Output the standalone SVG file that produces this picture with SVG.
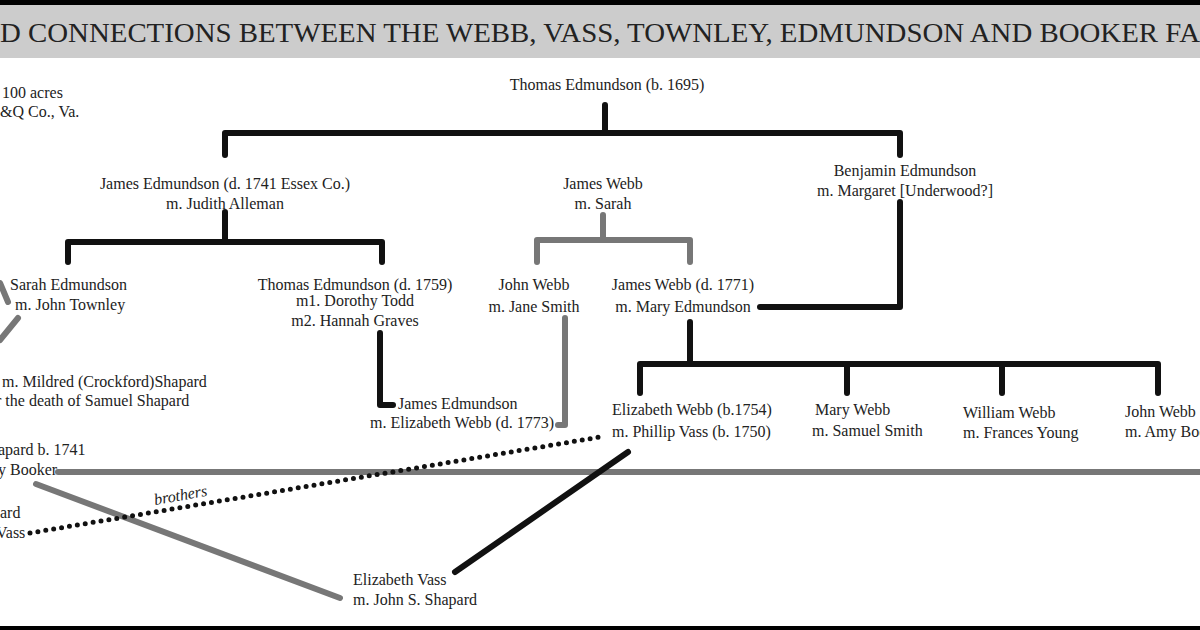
<svg xmlns="http://www.w3.org/2000/svg" width="1200" height="630" viewBox="0 0 1200 630">
<style>
text{font-family:"Liberation Serif","DejaVu Serif",serif;font-size:16px;fill:#222}
.c{text-anchor:middle}
.k{stroke:#111;stroke-width:6;fill:none;stroke-linecap:round;stroke-linejoin:round}
.g{stroke:#777;stroke-width:6;fill:none;stroke-linecap:round;stroke-linejoin:round}
.d{stroke:#111;stroke-width:5;fill:none;stroke-linecap:round;stroke-dasharray:0 8}
</style>
<rect width="1200" height="630" fill="#fff"/>
<rect width="1200" height="5" fill="#000"/>
<rect y="5" width="1200" height="53" fill="#ccc"/>
<rect y="626" width="1200" height="4" fill="#000"/>
<text x="0" y="42" style="font-size:28px" textLength="1200" lengthAdjust="spacingAndGlyphs">D CONNECTIONS BETWEEN THE WEBB, VASS, TOWNLEY, EDMUNDSON AND BOOKER FA</text>
<g id="connectors">
<path class="k" d="M225 155V133H900V155M605 105V133"/>
<path class="k" d="M225 212V240M68 262V242H382V262"/>
<path class="g" d="M603 215V240M537 262V240H690V262"/>
<path class="k" d="M900 202V307H760"/>
<path class="k" d="M690 322V364M640 393V364H1158V393M847 364V393M1002 364V393"/>
<path class="k" d="M380 333V405H393"/>
<path class="g" d="M565 318V425H558"/>
<path class="g" d="M58 472H1200"/>
<path class="g" d="M36 484L340 598"/>
<path class="k" d="M628 452L455 572"/>
<path class="d" d="M30 533L600 437"/>
<path class="g" d="M0 283L8 302M18 318L0 340"/>
</g>
<text x="155" y="505" transform="rotate(-10 155 505)" style="font-style:italic;fill:#222">brothers</text>
<g id="n-thomas1695"><text class="c" x="607" y="90">Thomas Edmundson (b. 1695)</text></g>
<g id="n-acres"><text x="2" y="98">100 acres</text><text x="0" y="117">&amp;Q Co., Va.</text></g>
<g id="n-james1741"><text class="c" x="225" y="189">James Edmundson (d. 1741 Essex Co.)</text><text class="c" x="225" y="209">m. Judith Alleman</text></g>
<g id="n-jameswebb"><text class="c" x="603" y="189">James Webb</text><text class="c" x="603" y="209">m. Sarah</text></g>
<g id="n-benjamin"><text class="c" x="905" y="176">Benjamin Edmundson</text><text class="c" x="905" y="196">m. Margaret [Underwood?]</text></g>
<g id="n-sarah"><text x="10" y="290">Sarah Edmundson</text><text x="15" y="310">m. John Townley</text></g>
<g id="n-thomas1759"><text class="c" x="355" y="290">Thomas Edmundson (d. 1759)</text><text class="c" x="355" y="306">m1. Dorothy Todd</text><text class="c" x="355" y="326">m2. Hannah Graves</text></g>
<g id="n-johnwebb"><text class="c" x="534" y="290">John Webb</text><text class="c" x="534" y="312">m. Jane Smith</text></g>
<g id="n-james1771"><text class="c" x="683" y="290">James Webb (d. 1771)</text><text class="c" x="683" y="312">m. Mary Edmundson</text></g>
<g id="n-mildred"><text x="2" y="387">m. Mildred (Crockford)Shapard</text><text x="-4" y="406">r the death of Samuel Shapard</text></g>
<g id="n-jamesed"><text x="398" y="409">James Edmundson</text><text x="370" y="428">m. Elizabeth Webb (d. 1773)</text></g>
<g id="n-elizwebb"><text x="612" y="415">Elizabeth Webb (b.1754)</text><text x="612" y="437">m. Phillip Vass (b. 1750)</text></g>
<g id="n-marywebb"><text x="815" y="415">Mary Webb</text><text x="812" y="436">m. Samuel Smith</text></g>
<g id="n-williamwebb"><text x="963" y="418">William Webb</text><text x="963" y="438">m. Frances Young</text></g>
<g id="n-johnwebb2"><text x="1125" y="417">John Webb</text><text x="1125" y="437">m. Amy Boo</text></g>
<g id="n-shapard1741"><text x="-2" y="455">apard b. 1741</text><text x="-2" y="475">y Booker</text></g>
<g id="n-vass"><text x="0" y="518">ard</text><text x="-4" y="538">Vass</text></g>
<g id="n-elizvass"><text x="353" y="585">Elizabeth Vass</text><text x="353" y="605">m. John S. Shapard</text></g>
</svg>
